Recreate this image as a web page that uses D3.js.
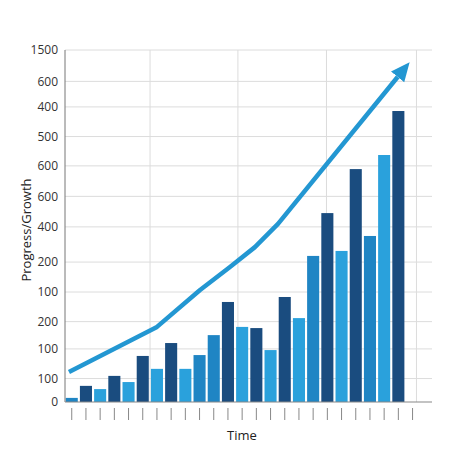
<!DOCTYPE html>
<html>
<head>
<meta charset="utf-8">
<script src="https://cdn.jsdelivr.net/npm/d3@7"></script>
<style>
    body { margin: 0; background: #fff; }
    text { font-family: "Open Sans", sans-serif; }
</style>
</head>
<body>
<svg id="chart" width="474" height="474"></svg>
<script>
// Data (y in grid units, the labels on the axis are just text).
const yTickPos = [0, 0.8, 1.81, 2.74, 3.75, 4.77, 5.97, 7.01, 8.05, 9.05, 10.06, 10.93, 12];
const yTickLabels = ['0', '100', '100', '200', '100', '200', '400', '600', '600', '500', '400', '600', '1500'];
const barValues = [0.14, 0.55, 0.44, 0.89, 0.68, 1.57, 1.13, 2.01, 1.13, 1.60, 2.28, 3.41,
    2.56, 2.52, 1.77, 3.58, 2.86, 4.98, 6.44, 5.15, 7.94, 5.66, 8.42, 9.92];
const barShades = ['mid', 'dark', 'light', 'dark', 'light', 'dark', 'light', 'dark', 'light', 'mid', 'mid', 'dark',
    'light', 'dark', 'light', 'dark', 'light', 'mid', 'dark', 'light', 'dark', 'mid', 'light', 'dark'];
const trendX = [0.28, 6.49, 9.53, 11.64, 13.4, 15.03, 23.47];
const trendY = [1.02, 2.56, 3.82, 4.60, 5.28, 6.07, 11.08];
const gridCols = [6, 12.2, 18.45, 24.8];
const slotCount = 25;

// Layout.
const LEFT = 65, RIGHT = 432, TOP = 50, BOTTOM = 402;
const SLOT_END = 419.3;
const COLORS = { dark: '#1a4c7f', mid: '#1f85c4', light: '#2aa1dc' };
const LINE_COLOR = '#2397d2';

const svg = d3.select('#chart');

const y = d3.scaleLinear().domain([0, 12]).range([BOTTOM, TOP]);
const xs = d3.scaleLinear().domain([0, slotCount]).range([LEFT, SLOT_END]);
const xb = d3.scaleBand()
    .domain(d3.range(slotCount))
    .range([LEFT, SLOT_END])
    .paddingInner(0.15)
    .paddingOuter(0.05);

// Grid.
const grid = svg.append('g').attr('class', 'grid');
grid.selectAll('line.h')
    .data(yTickPos.slice(1))
    .join('line')
    .attr('class', 'h')
    .attr('x1', LEFT).attr('x2', RIGHT)
    .attr('y1', d => y(d)).attr('y2', d => y(d))
    .attr('stroke', '#dcdcdc').attr('stroke-width', 1);
grid.selectAll('line.v')
    .data(gridCols)
    .join('line')
    .attr('class', 'v')
    .attr('x1', d => xs(d)).attr('x2', d => xs(d))
    .attr('y1', TOP).attr('y2', BOTTOM)
    .attr('stroke', '#dcdcdc').attr('stroke-width', 1);

// Bars.
svg.append('g')
    .selectAll('rect')
    .data(barValues)
    .join('rect')
    .attr('x', (d, i) => xb(i))
    .attr('y', d => y(d))
    .attr('width', xb.bandwidth())
    .attr('height', d => y(0) - y(d))
    .attr('fill', (d, i) => COLORS[barShades[i]]);

// Axes lines.
svg.append('line')
    .attr('x1', LEFT).attr('x2', LEFT)
    .attr('y1', TOP).attr('y2', BOTTOM)
    .attr('stroke', '#777').attr('stroke-width', 1);
svg.append('line')
    .attr('x1', LEFT).attr('x2', RIGHT)
    .attr('y1', BOTTOM).attr('y2', BOTTOM)
    .attr('stroke', '#888').attr('stroke-width', 1.2);

// Y axis labels.
const yAxis = svg.append('g')
    .attr('transform', `translate(${LEFT},0)`)
    .call(d3.axisLeft(y)
        .tickValues(yTickPos)
        .tickFormat((d, i) => yTickLabels[i])
        .tickSize(0)
        .tickPadding(7));
yAxis.select('.domain').remove();
yAxis.selectAll('text')
    .attr('font-size', 12)
    .attr('fill', '#333')
    .style('font-family', '"Open Sans", sans-serif');

// X tick marks, one per slot.
svg.append('g')
    .selectAll('line')
    .data(d3.range(slotCount))
    .join('line')
    .attr('x1', d => xb(d) + xb.bandwidth() / 2)
    .attr('x2', d => xb(d) + xb.bandwidth() / 2)
    .attr('y1', BOTTOM + 6).attr('y2', BOTTOM + 18)
    .attr('stroke', '#888').attr('stroke-width', 1);

// Trend arrow.
svg.append('defs').append('marker')
    .attr('id', 'arrow')
    .attr('markerUnits', 'userSpaceOnUse')
    .attr('viewBox', '0 -9 20 18')
    .attr('refX', 0).attr('refY', 0)
    .attr('markerWidth', 20).attr('markerHeight', 18)
    .attr('orient', 'auto')
    .append('path')
    .attr('d', 'M0,-8.5L19,0L0,8.5Z')
    .attr('fill', LINE_COLOR);

const line = d3.line()
    .x(d => xs(d[0]))
    .y(d => y(d[1]));
svg.append('path')
    .datum(d3.zip(trendX, trendY))
    .attr('d', line)
    .attr('fill', 'none')
    .attr('stroke', LINE_COLOR)
    .attr('stroke-width', 4.5)
    .attr('stroke-linejoin', 'round')
    .attr('marker-end', 'url(#arrow)');

// Axis titles.
svg.append('text')
    .attr('transform', `translate(31,${(TOP + BOTTOM) / 2 + 4}) rotate(-90)`)
    .attr('text-anchor', 'middle')
    .attr('font-size', 13)
    .attr('fill', '#222')
    .text('Progress/Growth');
svg.append('text')
    .attr('x', 242).attr('y', 440)
    .attr('text-anchor', 'middle')
    .attr('font-size', 13)
    .attr('fill', '#222')
    .text('Time');
</script>
</body>
</html>
